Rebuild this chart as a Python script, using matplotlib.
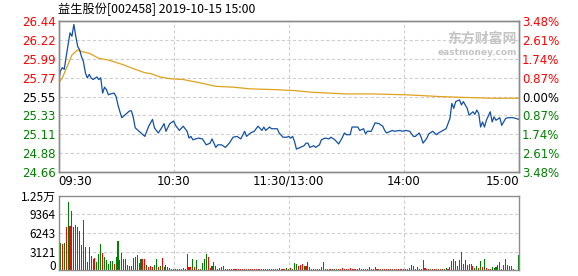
import matplotlib
matplotlib.use("Agg")
import matplotlib.pyplot as plt
from matplotlib.transforms import ScaledTranslation

# chart data
title = "益生股份[002458] 2019-10-15 15:00"
prev_close = 25.55
price_ticks = [24.66, 24.88, 25.11, 25.33, 25.55, 25.77, 25.99, 26.22, 26.44]
pct_labels = ["3.48%", "2.61%", "1.74%", "0.87%", "0.00%", "0.87%", "1.74%", "2.61%", "3.48%"]
time_ticks = [0, 60, 120, 180, 240]
time_labels = ["09:30", "10:30", "11:30/13:00", "14:00", "15:00"]
vol_ticks = [0, 3121, 6243, 9364, 12485]
vol_labels = ["0", "3121", "6243", "9364", "1.25万"]

# minute index / price
price_t = [0, 1, 2, 3, 4, 5, 6, 7, 8, 9, 10, 11, 12, 13, 14, 15, 16, 17, 18, 20,
           21, 22, 23, 24, 25, 26, 27, 29, 30, 31, 32, 33, 35, 37, 38, 39, 40, 42, 43, 45,
           46, 47, 49, 50, 52, 54, 55, 56, 58, 60, 61, 63, 65, 67, 68, 69, 70, 73, 75, 77,
           79, 80, 82, 83, 85, 87, 89, 91, 93, 95, 97, 98, 100, 102, 104, 106, 107, 108, 110, 111,
           114, 115, 117, 119, 120, 121, 122, 123, 124, 126, 128, 129, 130, 131, 133, 134, 136, 137, 139, 141,
           142, 144, 146, 148, 149, 150, 152, 153, 156, 157, 159, 160, 161, 163, 165, 167, 169, 170, 171, 174,
           175, 178, 179, 181, 183, 185, 186, 188, 189, 190, 192, 193, 195, 197, 198, 202, 204, 205, 206, 207,
           209, 210, 211, 213, 214, 216, 217, 218, 219, 220, 221, 222, 223, 225, 226, 227, 228, 230, 231, 233,
           234, 237, 240]
price_v = [25.71, 25.85, 25.89, 25.87, 26.02, 26.16, 26.30, 26.26, 26.40, 26.26, 26.14, 26.10, 26.02, 25.96, 25.83, 25.77, 25.81, 25.77, 25.75, 25.78,
           25.75, 25.77, 25.59, 25.66, 25.63, 25.57, 25.58, 25.59, 25.55, 25.45, 25.37, 25.30, 25.34, 25.38, 25.38, 25.30, 25.18, 25.14, 25.12, 25.08,
           25.14, 25.20, 25.28, 25.18, 25.12, 25.19, 25.23, 25.14, 25.23, 25.26, 25.21, 25.15, 25.20, 25.14, 25.06, 25.08, 25.04, 25.06, 25.05, 24.98,
           25.00, 25.05, 24.95, 24.98, 24.98, 24.95, 25.00, 25.07, 25.08, 25.05, 25.14, 25.08, 25.12, 25.14, 25.20, 25.15, 25.19, 25.15, 25.19, 25.17,
           25.17, 25.12, 25.07, 25.07, 25.08, 25.06, 25.08, 25.02, 24.93, 24.95, 24.97, 25.00, 25.00, 24.95, 24.97, 24.95, 24.98, 25.04, 25.06, 25.05,
           25.07, 25.04, 24.99, 25.07, 25.12, 25.10, 25.10, 25.19, 25.19, 25.15, 25.17, 25.11, 25.14, 25.14, 25.24, 25.23, 25.20, 25.15, 25.12, 25.15,
           25.14, 25.15, 25.14, 25.15, 25.14, 25.08, 25.08, 25.12, 25.07, 25.00, 25.06, 25.11, 25.14, 25.10, 25.12, 25.17, 25.29, 25.47, 25.41, 25.49,
           25.51, 25.45, 25.49, 25.41, 25.33, 25.37, 25.34, 25.39, 25.35, 25.19, 25.25, 25.19, 25.27, 25.37, 25.25, 25.31, 25.27, 25.30, 25.21, 25.29,
           25.30, 25.30, 25.28]

# average price line
avg_t = [0, 2, 5, 7, 10, 12, 16, 21, 26, 33, 40, 45, 48, 53, 58, 65, 74, 82, 91, 100,
         114, 123, 132, 141, 150, 164, 181, 190, 198, 210, 225, 240]
avg_v = [25.71, 25.77, 25.93, 26.04, 26.10, 26.08, 26.06, 26.00, 25.98, 25.93, 25.87, 25.83, 25.82, 25.78, 25.76, 25.75, 25.71, 25.67, 25.66, 25.64,
         25.63, 25.62, 25.60, 25.59, 25.58, 25.58, 25.57, 25.56, 25.55, 25.54, 25.53, 25.53]

# volume per minute (shares), one value per minute 0..240
volume = [0, 4630, 4400, 4630, 7180, 11530, 7460, 10000, 7180, 7630,
          7290, 6610, 4240, 8480, 3840, 1410, 3840, 2370, 1810, 2090,
          1410, 2710, 4400, 2940, 2150, 1700, 1020, 1530, 1530, 1020,
          2260, 4920, 1700, 2830, 1920, 1810, 850, 680, 680, 1980,
          2260, 2490, 1130, 1810, 1810, 1810, 850, 570, 680, 450,
          850, 1870, 450, 680, 1980, 450, 850, 450, 280, 110,
          110, 110, 110, 110, 110, 280, 110, 2710, 450, 450,
          1920, 450, 1700, 150, 200, 1130, 1870, 2710, 2150, 280,
          680, 1410, 680, 150, 400, 570, 730, 170, 170, 170,
          170, 170, 170, 170, 170, 170, 170, 170, 230, 170,
          170, 170, 170, 170, 170, 170, 170, 170, 170, 170,
          170, 170, 170, 170, 170, 340, 170, 170, 170, 340,
          170, 280, 170, 1240, 1020, 680, 790, 1070, 680, 730,
          1410, 450, 170, 170, 170, 170, 170, 570, 1410, 230,
          170, 170, 170, 170, 170, 170, 170, 170, 340, 170,
          170, 170, 340, 170, 170, 170, 170, 340, 170, 170,
          170, 170, 510, 170, 170, 510, 170, 170, 170, 170,
          170, 170, 170, 170, 230, 170, 170, 170, 170, 170,
          170, 170, 230, 400, 850, 680, 170, 450, 170, 170,
          1700, 340, 170, 170, 170, 170, 170, 170, 170, 170,
          170, 170, 400, 170, 450, 1530, 1870, 1530, 680, 1700,
          3050, 1020, 1700, 850, 1020, 1020, 680, 280, 680, 400,
          1530, 450, 1870, 400, 170, 170, 450, 400, 450, 850,
          1360, 170, 850, 1870, 850, 680, 680, 110, 0, 0,
          2540]
# r = up minute, g = down minute
vol_dir = ("rgrgrgrgrg" "ggrggrgggr" "gggrgggggr" "ggggrgrrgg" "ggrgrrgrrr"
           "ggrgrggrrg" "grggrrggrr" "grgrggggrr" "ggrrrggrrr" "rrrrrrrrgr"
           "rrrrrrrrgg" "grrrrgrrrg" "grgggrrrgr" "grrrrrrrrg" "ggrrggrrrr"
           "rrrrrrrggr" "rrgrrrrrgr" "rrrrgrrrrr" "rrrrgrgrgg" "grrrgrrrgr"
           "rggrrrgrrr" "grggggrggr" "grgrrrgggg" "grrrgrrrrr" "g")

RED = "#ff0000"
GREEN = "#008000"
GRID = "#cfcfcf"
FRAME = "#8c8c8c"


def tick_color(v):
    if v > prev_close + 0.001:
        return RED
    if v < prev_close - 0.001:
        return GREEN
    return "#000000"


fig = plt.figure(figsize=(5.78, 2.76), dpi=100)
fig.patch.set_facecolor("white")

ax = fig.add_axes([58.5 / 578, 1 - 172 / 276, 460.5 / 578, 151 / 276])
axv = fig.add_axes([58.5 / 578, 1 - 270 / 276, 460.5 / 578, 74 / 276])

# price panel
ax.plot(avg_t, avg_v, color="#e0a21c", lw=0.9)
ax.plot(price_t, price_v, color="#1250a6", lw=0.9)
ax.set_xlim(0, 240)
ax.set_ylim(price_ticks[0], price_ticks[-1])
ax.set_yticks(price_ticks)
ax.set_yticklabels([f"{v:.2f}" for v in price_ticks], fontsize=8.5)
for lab, v in zip(ax.get_yticklabels(), price_ticks):
    lab.set_color(tick_color(v))
ax.set_xticks(time_ticks)
ax.set_xticklabels(time_labels, fontsize=8.5)
labs = ax.get_xticklabels()
labs[0].set_ha("left")
labs[-1].set_ha("right")
ax.tick_params(length=0, pad=2)
for y in price_ticks[1:-1]:
    ax.axhline(y, color=GRID, lw=0.8, ls=(0, (3, 2)), zorder=0)
for x in time_ticks[1:-1]:
    ax.axvline(x, color=GRID, lw=0.8, ls=(0, (3, 2)), zorder=0)

axr = ax.twinx()
axr.set_ylim(price_ticks[0], price_ticks[-1])
axr.set_yticks(price_ticks)
axr.set_yticklabels(pct_labels, fontsize=8.5)
for lab, v in zip(axr.get_yticklabels(), price_ticks):
    lab.set_color(tick_color(v))
axr.tick_params(length=0, pad=2)

for a in (ax, axr):
    for s in a.spines.values():
        s.set_color(FRAME)
        s.set_linewidth(1.0)

# watermark
ax.text(0.995, 0.885, "东方财富网", transform=ax.transAxes, ha="right", va="center",
        fontsize=10, color="#c4c4c4", fontweight="bold",
        family=["Noto Sans CJK SC", "DejaVu Sans"])
ax.text(0.995, 0.79, "eastmoney.com", transform=ax.transAxes, ha="right", va="center",
        fontsize=6.5, color="#c4c4c4", fontweight="bold")

# volume panel
minutes = list(range(len(volume)))
colors = [RED if c == "r" else GREEN for c in vol_dir]
axv.bar(minutes, volume, width=0.55, color=colors, linewidth=0)
axv.set_xlim(0, 240)
axv.set_ylim(0, vol_ticks[-1])
axv.set_yticks(vol_ticks)
axv.set_yticklabels(vol_labels, fontsize=8.5, family=["Noto Sans CJK SC", "DejaVu Sans"])
axv.set_xticks([])
axv.tick_params(length=0, pad=2)
# keep the "0" label inside the picture
zero_lab = axv.get_yticklabels()[0]
zero_lab.set_va("bottom")
zero_lab.set_transform(zero_lab.get_transform() + ScaledTranslation(0, -3 / 100, fig.dpi_scale_trans))
for y in vol_ticks[1:-1]:
    axv.axhline(y, color=GRID, lw=0.8, ls=(0, (3, 2)), zorder=0)
for x in time_ticks[1:-1]:
    axv.axvline(x, color=GRID, lw=0.8, ls=(0, (3, 2)), zorder=0)
for s in axv.spines.values():
    s.set_color(FRAME)
    s.set_linewidth(1.0)

fig.text(58 / 578, 1 - 9 / 276, title, ha="left", va="center", fontsize=8.8,
         family=["Noto Sans CJK SC", "DejaVu Sans"])

fig.savefig("out.png", dpi=100)
